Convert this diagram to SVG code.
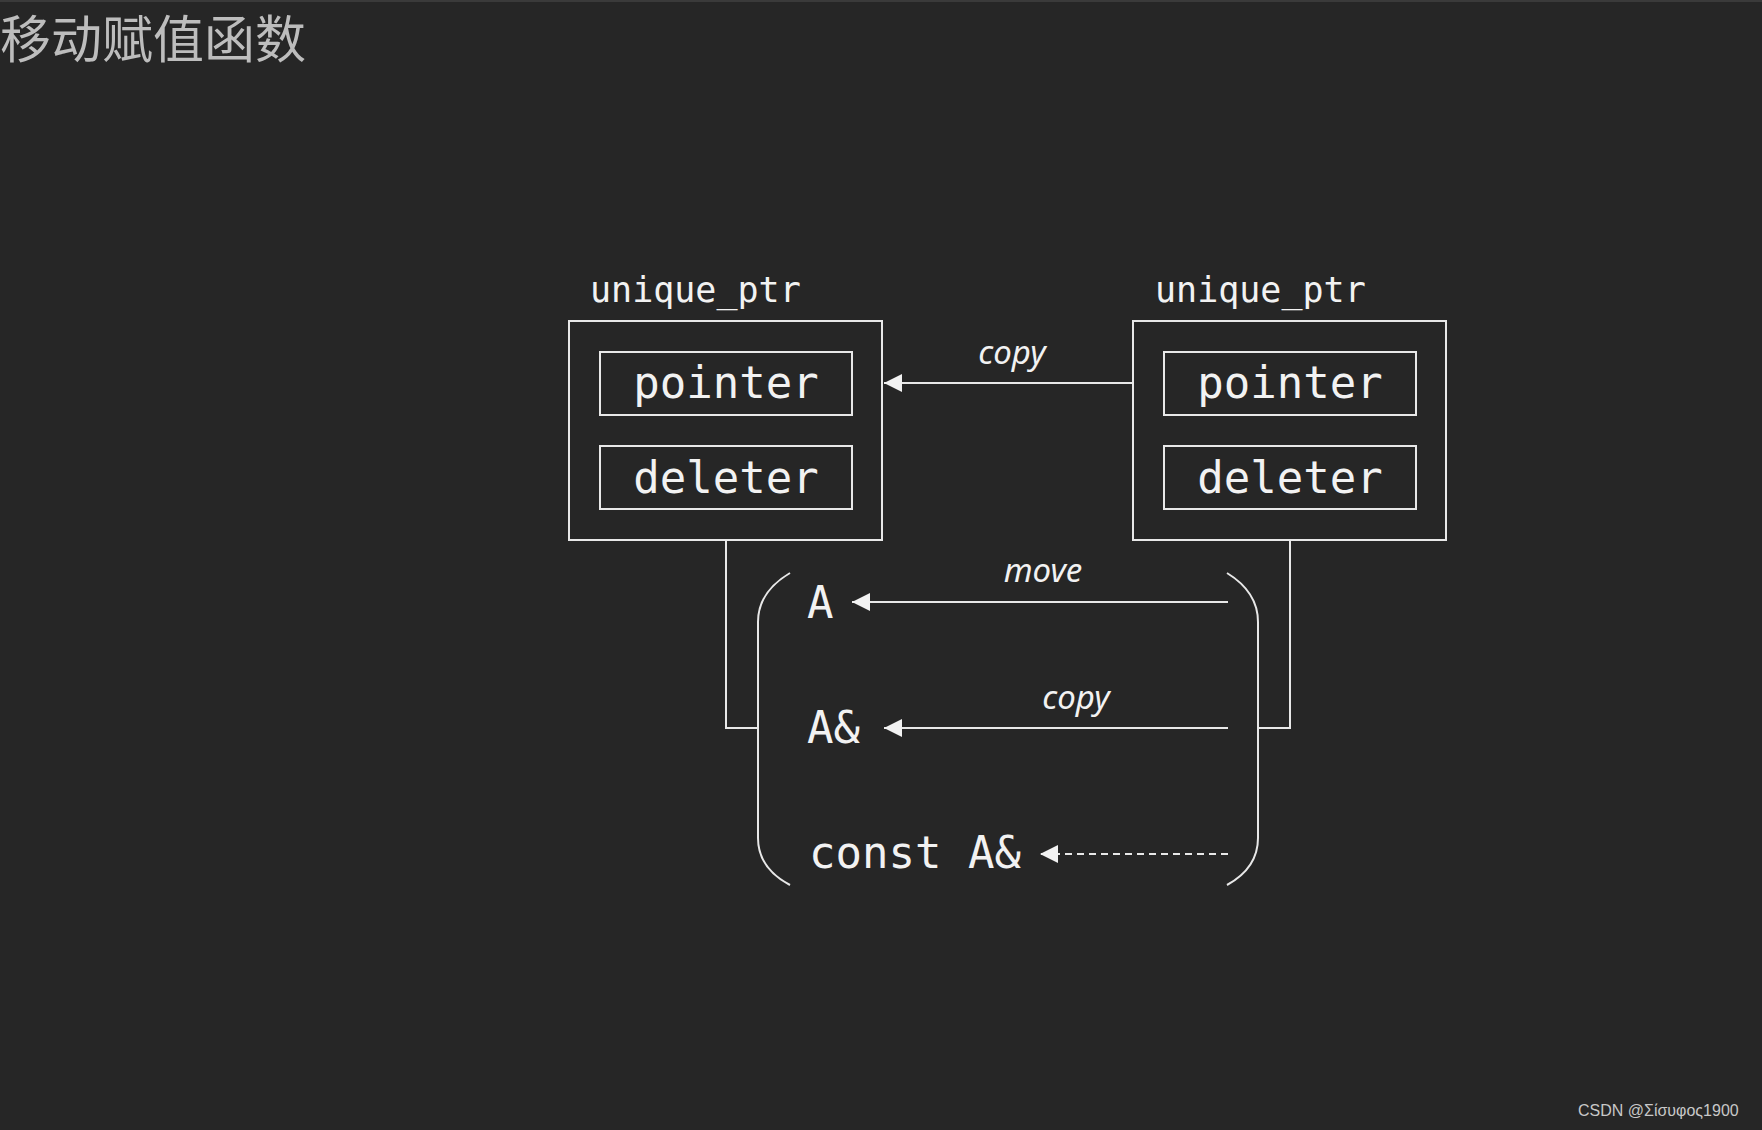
<svg xmlns="http://www.w3.org/2000/svg" width="1762" height="1130" viewBox="0 0 1762 1130">
<defs>
<style>
.ln{stroke:#e8e8e8;stroke-width:2;fill:none}
.mono{font-family:"DejaVu Sans Mono","Liberation Mono",monospace;fill:#f2f2f2}
.it{font-family:"Noto Sans","DejaVu Sans",sans-serif;font-style:italic;fill:#f2f2f2;font-size:33px}
</style>
<marker id="tri" viewBox="0 0 20 20" refX="18" refY="10" markerWidth="20" markerHeight="20" markerUnits="userSpaceOnUse" orient="auto"><path d="M0,1 L18,10 L0,19 Z" fill="#f2f2f2"/></marker>
</defs>
<rect width="1762" height="1130" fill="#262626"/>
<rect width="1762" height="2" fill="#3a3a3a"/>
<text x="0" y="58" font-family="Noto Sans CJK SC,sans-serif" font-size="51" fill="#bdbdbd">移动赋值函数</text>
<g id="left">
<text class="mono" x="590" y="302" font-size="35">unique_ptr</text>
<rect class="ln" x="569" y="321" width="313" height="219"/>
<rect class="ln" x="600" y="352" width="252" height="63"/>
<text class="mono" x="726" y="398" font-size="44" text-anchor="middle">pointer</text>
<rect class="ln" x="600" y="446" width="252" height="63"/>
<text class="mono" x="726" y="493" font-size="44" text-anchor="middle">deleter</text>
</g>
<g id="right">
<text class="mono" x="1155" y="302" font-size="35">unique_ptr</text>
<rect class="ln" x="1133" y="321" width="313" height="219"/>
<rect class="ln" x="1164" y="352" width="252" height="63"/>
<text class="mono" x="1290" y="398" font-size="44" text-anchor="middle">pointer</text>
<rect class="ln" x="1164" y="446" width="252" height="63"/>
<text class="mono" x="1290" y="493" font-size="44" text-anchor="middle">deleter</text>
</g>
<g id="bracket">
<path class="ln" d="M790,573 Q758,592 758,622 L758,838 Q758,868 790,885"/>
<path class="ln" d="M1227,573 Q1258,592 1258,622 L1258,838 Q1258,868 1227,885"/>
<text class="mono" x="807" y="618" font-size="44">A</text>
<text class="mono" x="807" y="743" font-size="44">A&amp;</text>
<text class="mono" x="809" y="868" font-size="44">const A&amp;</text>
</g>
<g id="connectors">
<line class="ln" x1="1133" y1="383" x2="884" y2="383" marker-end="url(#tri)"/>
<polyline class="ln" points="726,540 726,728 758,728"/>
<polyline class="ln" points="1290,540 1290,728 1258,728"/>
<line class="ln" x1="1228" y1="602" x2="852" y2="602" marker-end="url(#tri)"/>
<line class="ln" x1="1228" y1="728" x2="884" y2="728" marker-end="url(#tri)"/>
<line class="ln" x1="1228" y1="854" x2="1040" y2="854" stroke-dasharray="7,5" marker-end="url(#tri)"/>
<text class="it" x="1012" y="364" text-anchor="middle">copy</text>
<text class="it" x="1043" y="582" text-anchor="middle">move</text>
<text class="it" x="1076" y="709" text-anchor="middle">copy</text>
</g>
<text x="1578" y="1116" font-family="Liberation Sans,sans-serif" font-size="16" fill="#c8c8c8">CSDN @Σίσυφος1900</text>
</svg>
